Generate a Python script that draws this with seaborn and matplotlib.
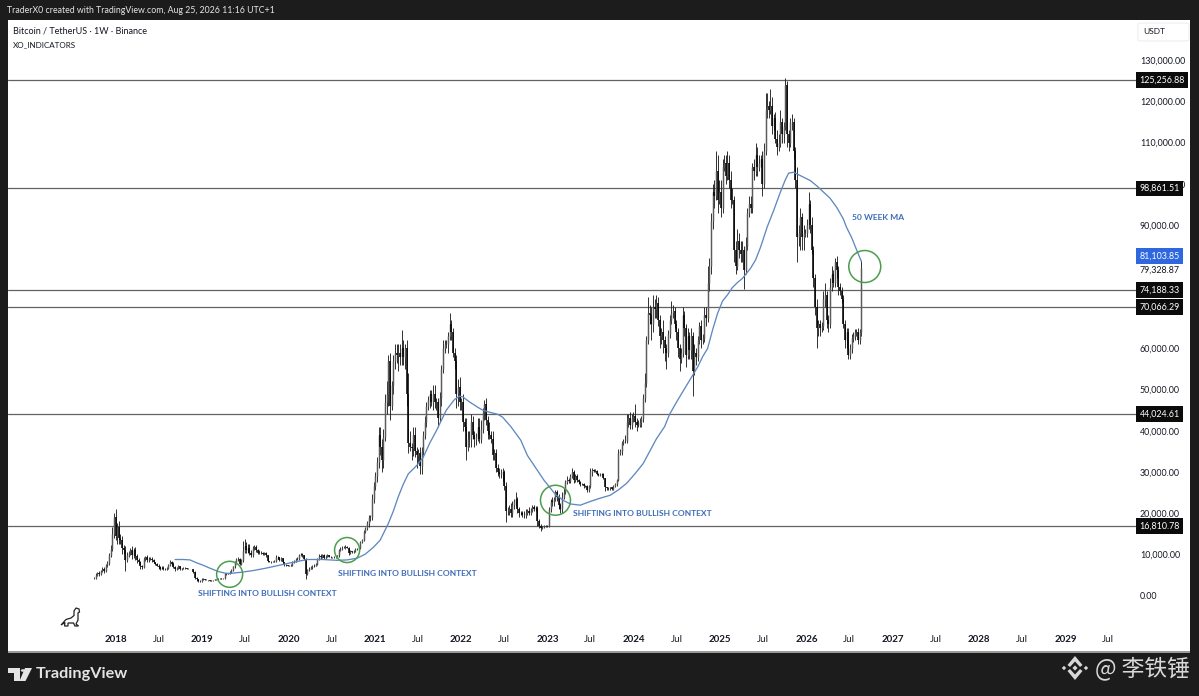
import pandas as pd
import numpy as np
import seaborn as sns
import matplotlib.pyplot as plt
import matplotlib.dates as mdates
from matplotlib.patches import Rectangle, Polygon, Circle, FancyBboxPatch

# weekly closes, thousands of USDT (rows of 10 weeks)
closes = [
    4.2,4.9,5.4,5.2,5.9,6.4,6.0,7.3,7.8,9.8,
    11.3,15.0,19.0,14.5,16.5,14.0,13.5,11.5,11.0,8.5,
    9.9,10.3,11.0,9.8,11.0,9.5,8.5,8.0,7.0,6.8,
    8.8,9.2,8.5,8.8,8.9,8.5,8.0,7.5,7.2,6.8,
    6.5,6.7,6.3,6.4,6.6,7.4,8.2,7.7,6.9,6.3,
    6.7,7.0,6.4,6.6,6.7,6.6,6.5,6.4,6.4,6.4,
    5.6,4.3,3.9,3.5,3.4,4.0,3.9,3.8,3.7,3.6,
    3.5,3.6,3.7,3.9,3.9,4.0,4.0,4.1,4.1,5.1,
    5.2,5.3,5.7,6.2,7.0,8.0,8.7,8.8,7.7,8.6,
    10.8,12.0,11.0,11.6,10.4,9.8,11.4,11.7,10.9,10.3,
    10.4,10.3,10.0,10.2,9.7,8.3,8.2,8.1,8.2,8.3,
    9.2,9.2,8.6,9.0,8.0,7.4,7.3,7.2,7.2,7.4,
    8.1,8.2,8.7,8.9,9.9,10.0,9.7,8.9,5.2,6.1,
    6.5,6.8,7.1,7.2,7.7,8.8,9.6,9.3,9.7,9.1,
    9.4,9.7,9.4,9.3,9.2,9.4,9.2,9.7,11.0,11.3,
    11.6,11.6,11.7,11.6,10.3,10.7,10.6,10.8,11.3,11.3,
    11.4,13.0,13.5,15.5,16.3,17.5,19.0,19.0,23.5,26.5,
    29.0,32.5,39.0,36.0,33.0,38.5,47.0,49.0,57.0,46.0,
    51,57,59,58.5,59,58,60,58,60,49,
    37,36,35.8,39,35,34,34.5,31.5,35,39,
    42,46,47.5,49,47,49,47,47,43,48,
    55,60,61,61,63,66,64,59,57,49,
    50.5,47,47,42,41,36,38,38,42,39,
    38,38.5,41,38,40.5,44.5,46.5,42.5,40,39,
    38,34,34.5,31,30,29.5,29.8,30,26.5,20.5,
    20.5,21,20,22,22.8,23.5,21,20,20,19.5,
    19.4,20,20.5,20,20.7,21.5,21,21.2,18,16.8,
    16.4,16.6,16.8,16.9,16.9,21,23,22.7,23.5,25,
    24,22,21,24,25,27.5,28,27.8,29,30,
    28,29,28,27.5,27,27,26.5,26.5,25.5,26.5,
    30,30.5,30.2,30.3,29.5,29.2,29.5,29.5,28.5,26.2,
    26,26,26.2,25.8,26.5,27,28,34.5,35,37,
    37.5,37.5,42,43,41.5,43,43.5,42,41.5,41.5,
    42,43,48,51.5,62,68.5,68,66,70,69.5,
    71,67,63,64,62,60,59,63.5,67,68.5,
    69,66,64,60,57.5,59,68,65,58.5,63,
    59.5,63,54.5,59,58,62,65.5,62,62.5,68,
    67.5,76,80,91,98,97,103,96,98,94,
    104,105,102,105,101,96,96,84,80,86,
    84,83,84,79,85,93,95,94,104,103,
    107,104,105,106,100,108,118,119,118,119,
    114,116,111,109,110,115,112,114,124,112,
    110,115,115,108,101,87,88,92,87,88,
    88,90,95,90,84,77,70,65,66,65,
    65.5,72,73,67,66,75,78,76,81,79,
    75,74,72,66,62,64,58.5,60,62.5,63,
    64,64,62,64,79.5,
]

# wick length above the body
wick_up = [
    .2,.4,.3,.4,.3,.4,.5,.3,.5,.5,
    1,1.5,1,2,1,1.5,1,1,.8,1,
    .6,.5,.6,1,.4,.8,.6,.5,.4,.4,
    .5,.4,.5,.4,.4,.3,.3,.2,.3,.3,
    .3,.3,.3,.2,.2,.2,.3,.2,.3,.2,
    .2,.3,.2,.1,.1,.1,.1,.1,.1,.1,
    .1,.2,.1,.1,.1,.1,.1,.1,.1,.1,
    .1,.1,.1,.1,.1,.1,.1,.1,.1,.2,
    .1,.2,.2,.2,.2,.3,.3,.5,.3,.3,
    2.5,1.8,1,.9,.8,.5,.6,.5,.5,.3,
    .5,.3,.3,.3,.3,.2,.1,.2,.1,.2,
    .6,.3,.2,.2,.1,.2,.1,.1,.1,.3,
    .2,.4,.4,.3,.2,.4,.3,.2,.1,.2,
    .3,.2,.2,.3,.2,.3,.4,.4,.3,.3,
    .3,.3,.2,.2,.1,.2,.2,.2,.3,.4,
    .5,.4,.6,.2,.2,.3,.1,.1,.2,.2,
    .2,.3,.3,.4,.4,.5,.4,.5,1,1,
    1,1,2,2,2,2,2,3,1.5,2,
    1,1.5,2,2,2,2,4.5,2,1,2,
    5,3,1,2,2,1,1,1.5,1,1,
    1.5,1,1,1,1,2,2,1,1,1.5,
    1,2,1,1,1,2.7,1,1,1,1.5,
    2,2.5,1,2,1,2,2,2,2,1.5,
    1,1,2,2,2,1,1,1.5,1,2,
    1,2,1,1,1,1,1,1,.5,1,
    1,1,1.5,1,.5,1.5,.5,.5,.5,.5,
    1,1,.5,1,.5,.5,.5,.5,.5,.5,
    .5,.3,.3,.3,.3,.5,.5,.8,.5,.5,
    .5,.5,.5,1,1,.5,1,.5,.5,1,
    .5,.5,.5,.3,.3,.3,.3,.3,.3,.3,
    1,.5,.2,.3,.2,.2,.2,.3,.2,.1,
    .2,.2,.2,.2,.2,.3,.3,1,.5,.5,
    .5,1.5,2,1,1.5,1,1,3,1,1,
    1,.5,1,2.5,1,4,2,2,3,2,
    2,1.5,1,1,3,1,1,1,1,3,
    1.5,1,1,1,1,1,2,1,1,2,
    1,2,1,2,1,1,1,1.5,1,2,
    2,4,2,2,2,3,5,4,3,3,
    2,2,2,3,2,2,3,1,2,3,
    2,2,2,1,2,1,2,2,1,2,
    3,2,2,1,2,2,4,3,1,4,
    2,1,1.5,2,2,3,1,1,1.6,1,
    1,1,2,1,1,3,2,2,1,2,
    1,1.5,3,1,2,1,1,2,1,1,
    1,2,3,1,1,2,2,1,1,1.5,
    1,1,1,1,1,1,1,1,1,1,
    .8,.8,1,.8,2,
]

# wick length below the body
wick_dn = [
    .2,.3,.3,.5,.3,.3,.6,.3,.4,.5,
    .5,.5,1,1,2,1.5,1,1.5,1,2.5,
    .5,.5,.4,1,.8,1,.6,.5,.6,.4,
    .1,.4,.3,.3,.3,.4,.2,.2,.2,.3,
    .3,.2,.2,.2,.2,.2,.2,.4,.2,.3,
    .2,.2,.2,.2,.1,.1,.1,.1,.1,.1,
    .1,.3,.4,.2,.2,.1,.1,.1,.1,.1,
    .1,.1,.1,.1,.1,.1,.1,.1,.1,.1,
    .2,.1,.2,.2,.2,.3,.3,.3,.3,.4,
    .5,.5,.8,.8,.6,.6,.5,.5,.4,.3,
    .3,.3,.2,.2,.3,.3,.1,.2,.1,.1,
    .2,.3,.2,.3,.2,.2,.2,.1,.1,.1,
    .2,.2,.2,.2,.3,.3,.3,.4,1.2,.3,
    .2,.2,.3,.2,.2,.3,.3,.4,.3,.2,
    .2,.2,.2,.2,.2,.1,.1,.2,.3,.3,
    .2,.2,.4,.1,.4,.2,.3,.2,.2,.3,
    .2,.2,.3,.3,.4,.5,1,1,.7,1,
    1,1.5,1.5,2,3,2,1,3,3,3.5,
    1,2,2,2,4,2,2,2,3,3,
    2.5,1,3,2,1.5,3,1.5,2,2,1,
    1,1,1,2,1,2,1.5,2,2,1,
    2,1,1,1,2,1,2,1,2,3.5,
    3,2,2,2,1,3,1,2,2,1,
    2,1.5,1,1,1,1,2,1,2,1,
    1,1,1,1,1,1,1,2,1,2.8,
    1,1,1,1,1,1,1,1,.5,.5,
    .5,.5,.5,.5,.5,.5,.5,.5,1.2,.5,
    .8,.3,.3,.3,.3,.3,.8,1,1,.5,
    1,1,1,1,.5,.5,.5,.5,.5,.5,
    .8,.5,.5,.5,.5,.3,.5,.3,.5,.3,
    .5,1,.3,.3,.3,.3,.3,.3,.3,.8,
    .3,.3,.3,.3,.3,.3,.5,.3,.5,1,
    .5,.5,.5,1,1,1,1,1,1.5,.5,
    .5,1,1,1,1,1,2,4,2,2,
    2,1.5,3,2,3,3,4,1,1,1,
    1,1,2,2,3,1,1,2,3,1,
    2,2,6,1,2,1,1,2,1,1,
    2,1,2,2,2,3,1,3,1,2,
    1,1,2,1,2,2,1,3,2,1,
    2,2,2,4.5,1,1,1,1,1,2,
    1,2,1,1,3,1,1,2,2,1,
    2,1,1,2,1,1,2,2,1,3,
    2,1,2,2,2,6,2,4,3,3,
    1,1,1,2,1,2,2,5,2,2,
    1,1,2,2,2,1,1,1,1,2,
    2,1,1,1,2,2,1,1,1,1,
    1,1,1,1,1,
]

# 50 week MA: week number since the first candle, value in thousands
ma_weeks = [49,54,58,62,66,70,75,79,82,89,96,104,112,120,129,138,147,153,159,164,169,173,178,181,184,187,
            190,195,199,203,207,210,213,218,221,223,227,232,235,239,244,247,252,258,262,268,272,276,279,284,
            288,294,300,306,312,317,322,327,332,336,340,345,348,353,359,365,368,371,374,377,380,383,386,389,
            392,397,400,403,407,411,415,418,420,423,427,431,433,437,441,445,449,453,455,458,461,464]
ma_values = [8.7,8.7,8.6,7.9,7.3,6.6,5.8,5.4,5.3,5.6,6.0,6.6,7.3,8.0,8.7,8.7,8.5,8.6,9.0,10,11.7,13.4,17.5,20.5,24,27,
             29.5,31.5,33.5,37,40,42.5,45,47.6,48.4,48.2,47,45.7,45,44.5,44,43.3,41,37.7,34,30.4,28,26,24.5,23,
             22.2,21.9,22.8,23.6,24.3,25.6,27.2,29.5,32,35,38,41,44,47.5,51.5,55.5,58,60,64.5,68.5,71.5,73,74.8,76,
             77,79.5,81.5,84.6,89.5,93.6,98,101,102.6,102.8,102,101.2,100.8,99.5,98,96.5,94.3,91.5,89.4,87,84,81.1]

levels = [125256.88, 98861.51, 74188.33, 70066.29, 44024.61, 16810.78]
level_labels = ["125,256.88", "98,861.51", "74,188.33", "70,066.29", "44,024.61", "16,810.78"]
price_ticks = [130000, 120000, 110000, 100000, 90000, 60000, 50000, 40000, 30000, 20000, 10000, 0]
extra_tick = 79328.87
ma_last = 81103.85

circle_weeks = [82, 153, 279, 466]
circle_prices = [5.1, 11.0, 23.1, 79.9]
circle_sizes = [350, 325, 465, 530]

years = [2018, 2019, 2020, 2021, 2022, 2023, 2024, 2025, 2026, 2027, 2028, 2029]

W, H = 1199, 696
DARK = "#1c1c1c"
INK = "#131722"
BLUE = "#3f6cb8"
GREEN = "#4a9e4e"

sns.set_theme(style="white")
plt.rcParams["font.family"] = ["Lato", "Noto Sans CJK SC", "DejaVu Sans"]

fig = plt.figure(figsize=(W / 100, H / 100), dpi=100, facecolor=DARK)


def fx(x):
    return x / W


def fy(y):
    return 1 - y / H


def fpts(pts):
    return [(fx(a), fy(b)) for a, b in pts]


# white panel, below the axes
fig.add_artist(Rectangle((fx(8), fy(652)), 1182 / W, 632 / H, transform=fig.transFigure, fc="white", ec="none", zorder=-2))
fig.add_artist(Rectangle((fx(8), fy(652.6)), 1182 / W, 1.2 / H, transform=fig.transFigure, fc="#9a9a9a", ec="none", zorder=-1))

ax = fig.add_axes([fx(8), fy(627), 1126 / W, 607 / H])
ax.patch.set_alpha(0)
for s in ax.spines.values():
    s.set_visible(False)

start = pd.Timestamp("2017-09-30")
df = pd.DataFrame({"close": closes, "up": wick_up, "dn": wick_dn})
df["date"] = [start + pd.Timedelta(days=7 * i) for i in range(len(df))]
df["open"] = df["close"].shift(1).fillna(df["close"])
df["top"] = df[["open", "close"]].max(axis=1)
df["bot"] = df[["open", "close"]].min(axis=1)
df["high"] = (df["top"] + df["up"]) * 1000
df["low"] = (df["bot"] - df["dn"]) * 1000

ma = pd.DataFrame({
    "date": [start + pd.Timedelta(days=7 * w) for w in ma_weeks],
    "ma": [v * 1000 for v in ma_values],
})

# levels
for lv in levels:
    ax.axhline(lv, xmax=1.003, color="#636363", lw=0.9, zorder=1, clip_on=False)

# candles
rising = df["close"] >= df["open"]
ax.vlines(df["date"], df["low"], df["high"], color="#222222", lw=0.65, zorder=2)
ax.vlines(df["date"][rising], df["bot"][rising] * 1000, df["top"][rising] * 1000, color="#5a5a5a", lw=1.05, zorder=3)
ax.vlines(df["date"][~rising], df["bot"][~rising] * 1000, df["top"][~rising] * 1000, color="#050505", lw=1.15, zorder=3)

sns.lineplot(data=ma, x="date", y="ma", color="#6089c0", lw=0.95, ax=ax, zorder=4)

# green circles
ax.scatter([start + pd.Timedelta(days=7 * w) for w in circle_weeks], [p * 1000 for p in circle_prices],
           s=circle_sizes, facecolors="none", edgecolors=GREEN, linewidths=1.1, zorder=5)

# axes ranges
jan18 = mdates.date2num(pd.Timestamp("2018-01-01"))
per_px = 365.25 / 86.3
ax.set_xlim(jan18 - 108 * per_px, jan18 + 1018 * per_px)
ax.set_ylim((595.3 - 627) / 4.115 * 1000, (595.3 - 20) / 4.115 * 1000)

# x ticks
xt, xl = [], []
for y in years:
    xt += [pd.Timestamp(f"{y}-01-01"), pd.Timestamp(f"{y}-07-01")]
    xl += [str(y), "Jul"]
ax.set_xticks(xt)
ax.set_xticklabels(xl, fontsize=7, color=INK)
for lab in ax.get_xticklabels():
    if lab.get_text() != "Jul":
        lab.set_fontweight("bold")
ax.tick_params(axis="x", length=0, pad=6)
ax.set_xlabel("")
ax.set_ylabel("")

# y ticks on the right
ax.yaxis.tick_right()
ax.set_yticks(price_ticks + [extra_tick])
ax.set_yticklabels([f"{t:,.2f}" for t in price_ticks + [extra_tick]], fontsize=6.4, color=INK)
ax.tick_params(axis="y", length=0, pad=4.2)

# price tags
tag_box = dict(boxstyle="square,pad=0.36", fc="#0b0b0b", ec="none")
for lv, txt in zip(levels, level_labels):
    ax.annotate(txt, xy=(1, lv), xycoords=ax.get_yaxis_transform(), xytext=(3.9, 0), textcoords="offset points",
                va="center", ha="left", fontsize=6.4, color="white", annotation_clip=False, zorder=8, bbox=tag_box)
ax.annotate(f"{ma_last:,.2f}", xy=(1, ma_last), xycoords=ax.get_yaxis_transform(), xytext=(3.9, 4),
            textcoords="offset points", va="center", ha="left", fontsize=6.4, color="white", annotation_clip=False,
            zorder=8, bbox=dict(boxstyle="square,pad=0.36", fc="#2f67e0", ec="none"))

# notes on the chart
notes = [("SHIFTING INTO BULLISH CONTEXT", 267.5, 593), ("SHIFTING INTO BULLISH CONTEXT", 407, 574),
         ("SHIFTING INTO BULLISH CONTEXT", 642, 513), ("50 WEEK MA", 878, 217)]
for txt, x, y in notes:
    fig.text(fx(x), fy(y), txt, color=BLUE, fontsize=6.1, fontweight="bold", ha="center", va="center")

# header texts
fig.text(fx(7), fy(10.5), "TraderX0 created with TradingView.com, Aug 25, 2026 11:16 UTC+1", color="#e6e6e6",
         fontsize=6.35, va="center")
fig.text(fx(13), fy(31.5), "Bitcoin / TetherUS · 1W · Binance", color=INK, fontsize=6.5, va="center")
fig.text(fx(13), fy(44.5), "XO_INDICATORS", color=INK, fontsize=5.8, va="center")

# USDT box
fig.add_artist(FancyBboxPatch((fx(1138), fy(41)), 51 / W, 18 / H, transform=fig.transFigure,
                              boxstyle="round,pad=0,rounding_size=0.002", fc="white", ec="#ececec", lw=0.7))
fig.text(fx(1143), fy(32), "USDT", color=INK, fontsize=6.0, va="center")

# dino icon
dino = [(61, 625), (66, 619.5), (71, 618), (74, 615.5), (74, 611), (76, 608), (79, 609), (79.5, 612), (78, 613),
        (78, 620), (76, 624), (78.5, 626), (75, 626), (73.5, 623), (68, 623), (68, 626), (64.5, 626), (65, 622.5)]
fig.add_artist(Polygon(fpts(dino), closed=True, transform=fig.transFigure, fc="white", ec="#222222", lw=0.9))

# TradingView logo
LOGO = "#e4e4e4"
for pts in ([(8, 668), (20, 668), (20, 681), (14, 681), (14, 673), (8, 673)],
            [(25, 668), (32, 668), (25.5, 681), (19.5, 681)]):
    fig.add_artist(Polygon(fpts(pts), closed=True, transform=fig.transFigure, fc=LOGO, ec="none"))
fig.add_artist(Circle((fx(23), fy(670.5)), 2.2 / W, transform=fig.transFigure, fc=LOGO, ec="none"))
fig.text(fx(36), fy(674), "TradingView", color=LOGO, fontsize=11.7, fontweight="bold", va="center")

# Binance mark and watermark
MARK = "#d8d8d8"
cx, cy = 1075, 668
def diamond(x0, y0, r):
    return [(x0 - r, y0), (x0, y0 - r), (x0 + r, y0), (x0, y0 + r)]
for d in (diamond(cx, cy, 2.6), diamond(cx - 11, cy, 2.2), diamond(cx + 11, cy, 2.2)):
    fig.add_artist(Polygon(fpts(d), closed=True, transform=fig.transFigure, fc=MARK, ec="none"))
chev_up = [(cx - 7.5, cy - 3), (cx, cy - 12), (cx + 7.5, cy - 3), (cx + 5, cy - 1), (cx, cy - 6.5), (cx - 5, cy - 1)]
chev_dn = [(cx - 7.5, cy + 3), (cx, cy + 12), (cx + 7.5, cy + 3), (cx + 5, cy + 1), (cx, cy + 6.5), (cx - 5, cy + 1)]
for pts in (chev_up, chev_dn):
    fig.add_artist(Polygon(fpts(pts), closed=True, transform=fig.transFigure, fc=MARK, ec="none"))
fig.text(fx(1095), fy(669), "@ 李铁锤", color=MARK, fontsize=16.4, va="center",
         family=["Noto Sans CJK SC", "DejaVu Sans"])

fig.savefig("out.png", dpi=100, facecolor=DARK)
